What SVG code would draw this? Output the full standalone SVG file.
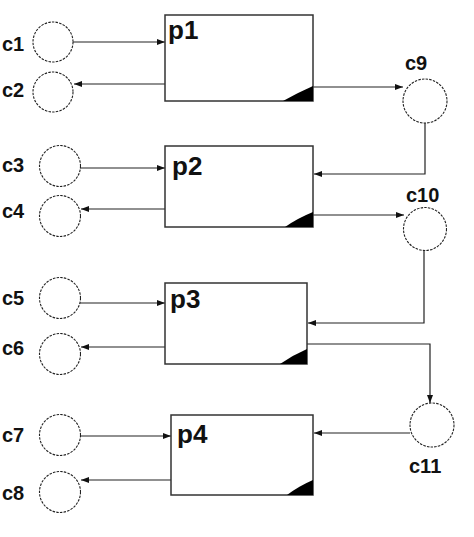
<svg xmlns="http://www.w3.org/2000/svg" width="474" height="537" viewBox="0 0 474 537">
<defs>
<style>
.box{fill:#fff;stroke:#333;stroke-width:1.5}
.tri{fill:#000;stroke:none}
.circ{fill:#fff;stroke:#222;stroke-width:1.1;stroke-dasharray:2.5,1.2}
.con{fill:none;stroke:#222;stroke-width:1.2}
.cl{font-family:"Liberation Sans",Arial,sans-serif;font-weight:bold;font-size:20px;fill:#111}
.pl{font-family:"Liberation Sans",Arial,sans-serif;font-weight:bold;font-size:26px;fill:#111}
</style>
<marker id="ah" viewBox="0 0 8 6" refX="8" refY="3" markerWidth="8" markerHeight="6" markerUnits="userSpaceOnUse" orient="auto">
<path d="M0,0 L8,3 L0,6 Z" fill="#111"/>
</marker>
</defs>
<rect width="474" height="537" fill="#fff"/>
<g id="connectors">
<path class="con" d="M73,42 H165" marker-end="url(#ah)"/>
<path class="con" d="M165,84 H74" marker-end="url(#ah)"/>
<path class="con" d="M313,87 H403" marker-end="url(#ah)"/>
<path class="con" d="M425,123 V174 H314" marker-end="url(#ah)"/>
<path class="con" d="M80,168 H165" marker-end="url(#ah)"/>
<path class="con" d="M165,209 H81" marker-end="url(#ah)"/>
<path class="con" d="M313,215 H404" marker-end="url(#ah)"/>
<path class="con" d="M424,250 V323 H308" marker-end="url(#ah)"/>
<path class="con" d="M80,303 H165" marker-end="url(#ah)"/>
<path class="con" d="M165,347 H81" marker-end="url(#ah)"/>
<path class="con" d="M307,344 H430 V403" marker-end="url(#ah)"/>
<path class="con" d="M80,436 H171" marker-end="url(#ah)"/>
<path class="con" d="M171,480 H81" marker-end="url(#ah)"/>
<path class="con" d="M410,433 H314" marker-end="url(#ah)"/>
</g>
<g id="p1">
<rect class="box" x="165" y="15" width="148" height="86"/>
<path class="tri" d="M283,101 Q297,93 313,86 L313,101 Z"/>
<text class="pl" x="168" y="39">p1</text>
</g>
<g id="p2">
<rect class="box" x="165" y="146" width="148" height="81"/>
<path class="tri" d="M285,227 Q298,218 313,212 L313,227 Z"/>
<text class="pl" x="172" y="175">p2</text>
</g>
<g id="p3">
<rect class="box" x="165" y="283" width="142" height="81"/>
<path class="tri" d="M280,364 Q293,355 307,349 L307,364 Z"/>
<text class="pl" x="170" y="308">p3</text>
</g>
<g id="p4">
<rect class="box" x="171" y="415" width="142" height="80"/>
<path class="tri" d="M287,495 Q299,486 313,480 L313,495 Z"/>
<text class="pl" x="177" y="443">p4</text>
</g>
<g id="c1"><circle class="circ" cx="53" cy="42" r="20"/><text class="cl" x="2" y="51">c1</text></g>
<g id="c2"><circle class="circ" cx="53" cy="92" r="20"/><text class="cl" x="2" y="97">c2</text></g>
<g id="c3"><circle class="circ" cx="60" cy="166" r="20.5"/><text class="cl" x="2" y="172">c3</text></g>
<g id="c4"><circle class="circ" cx="60" cy="216" r="20.5"/><text class="cl" x="2" y="218">c4</text></g>
<g id="c5"><circle class="circ" cx="60" cy="298" r="20.5"/><text class="cl" x="2" y="305">c5</text></g>
<g id="c6"><circle class="circ" cx="60" cy="354" r="20.5"/><text class="cl" x="2" y="355">c6</text></g>
<g id="c7"><circle class="circ" cx="60" cy="435" r="20.5"/><text class="cl" x="2" y="442">c7</text></g>
<g id="c8"><circle class="circ" cx="60" cy="492" r="20.5"/><text class="cl" x="2" y="500">c8</text></g>
<g id="c9"><circle class="circ" cx="425" cy="101" r="22"/><text class="cl" x="405" y="70">c9</text></g>
<g id="c10"><circle class="circ" cx="425" cy="229" r="21.5"/><text class="cl" x="406" y="202">c10</text></g>
<g id="c11"><circle class="circ" cx="432" cy="425" r="22"/><text class="cl" x="409" y="473">c11</text></g>
</svg>
